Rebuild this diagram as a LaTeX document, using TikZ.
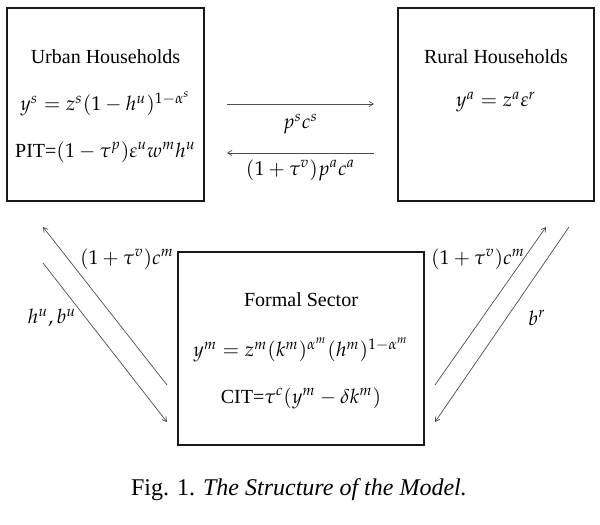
\documentclass[tikz,border=0pt]{standalone}
\usepackage{mathpazo}
\usepackage[no-math]{fontspec}
\newfontfamily\tnr{Liberation Serif}
\setmainfont{Liberation Serif}
\usetikzlibrary{arrows.meta}
\tikzset{
  sectorbox/.style={draw=black!90, line width=1pt, inner sep=0pt},
  txt/.style={inner sep=0pt, font=\tnr\fontsize{10}{12}\selectfont},
  flow/.style={draw=black!70, line width=0.35pt, -{Straight Barb[length=2.2pt,width=2.6pt]}},
  lbl/.style={inner sep=0pt, font=\tnr\fontsize{10}{12}\selectfont}
}
\begin{document}
\begin{tikzpicture}[x=0.5pt,y=-0.5pt]
\useasboundingbox (0,0) rectangle (600,525);
% boxes
\node[sectorbox, minimum width=98.5pt, minimum height=96.5pt] (urban) at (105.5,104.5) {};
\node[sectorbox, minimum width=98pt, minimum height=96.5pt] (rural) at (496,104.5) {};
\node[sectorbox, minimum width=123pt, minimum height=96.5pt] (formal) at (301,348.5) {};
% urban text
\node[txt] (ut) at (105.5,57) {Urban Households};
\node[txt] (ue1) at (105.5,104) {$y^s = z^s(1-h^u)^{1-\alpha^s}$};
\node[txt] (ue2) at (105.5,152) {PIT=$(1-\tau^p)\varepsilon^u w^m h^u$};
% rural text
\node[txt] (rt) at (496,57) {Rural Households};
\node[txt] (re1) at (496,102) {$y^a = z^a\varepsilon^r$};
% formal text
\node[txt] (ft) at (301,300) {Formal Sector};
\node[txt] (fe1) at (301,350) {$y^m = z^m(k^m)^{\alpha^m}(h^m)^{1-\alpha^m}$};
\node[txt] (fe2) at (301,398) {CIT=$\tau^c(y^m-\delta k^m)$};
% horizontal flows
\coordinate (h1a) at (227,104);
\coordinate (h1b) at (374,104);
\coordinate (h2a) at (374,153);
\coordinate (h2b) at (227,153);
\draw[flow] (h1a) -- (h1b);
\draw[flow] (h2a) -- (h2b);
\node[lbl] (l1) at (300.5,124) {$p^s c^s$};
\node[lbl] (l2) at (300.5,170) {$(1+\tau^v)p^a c^a$};
% left diagonal flows
\coordinate (d1a) at (167,385);
\coordinate (d1b) at (43,227);
\coordinate (d2a) at (43,263);
\coordinate (d2b) at (167,422);
\draw[flow] (d1a) -- (d1b);
\draw[flow] (d2a) -- (d2b);
\node[lbl] (l3) at (127,259) {$(1+\tau^v)c^m$};
\node[lbl] (l4) at (52,318) {$h^u, b^u$};
% right diagonal flows
\coordinate (d3a) at (435,385);
\coordinate (d3b) at (546,227);
\coordinate (d4a) at (569,227);
\coordinate (d4b) at (435,422);
\draw[flow] (d3a) -- (d3b);
\draw[flow] (d4a) -- (d4b);
\node[lbl] (l5) at (478,259) {$(1+\tau^v)c^m$};
\node[lbl] (l6) at (537,318) {$b^r$};
% caption
\node[inner sep=0pt, font=\tnr\fontsize{12}{14}\selectfont] (cap) at (299,490) {Fig. 1. \textit{The Structure of the Model.}};
\end{tikzpicture}
\end{document}
